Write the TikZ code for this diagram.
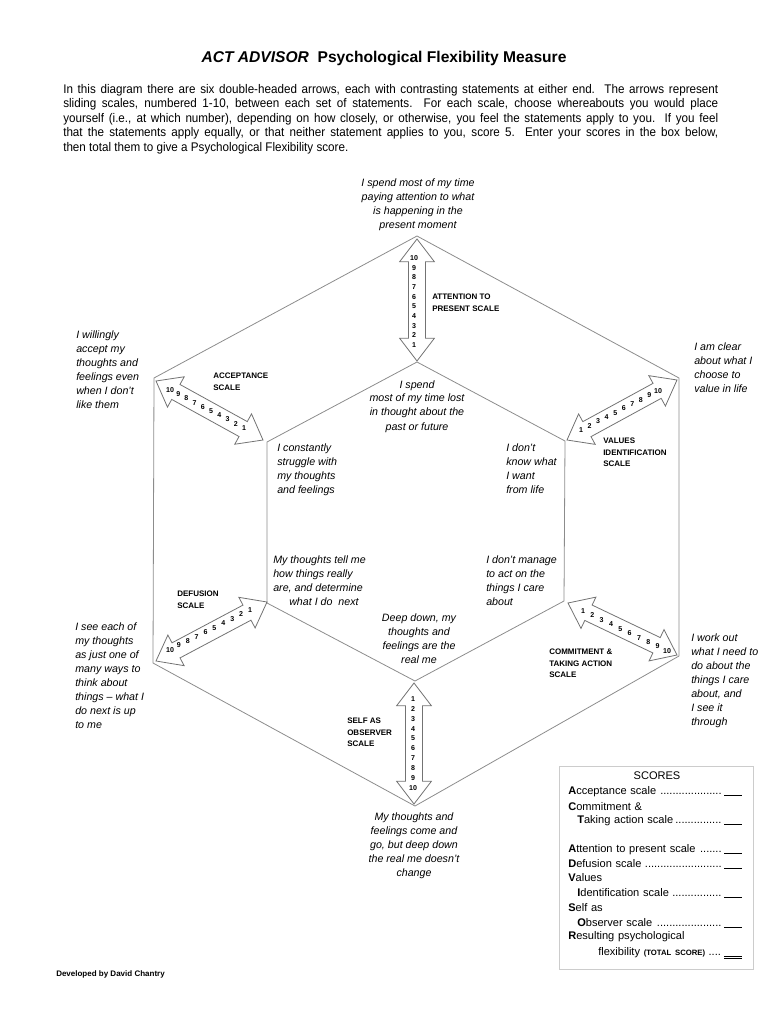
\documentclass[tikz,border=0pt]{standalone}
\usepackage{fontspec}
\setmainfont{Liberation Sans}
\newfontfamily\narrowfont{Liberation Sans}[FakeStretch=0.93]
\usetikzlibrary{calc}
\def\ahl{17pt}
\def\ahw{13pt}
\def\asw{6.4pt}
\newcommand\blockarrow[2]{%
 \draw[arrowbox] (#1)
  -- ($(#1)!\ahl!(#2)!\ahw!90:(#2)$)
  -- ($(#1)!\ahl!(#2)!\asw!90:(#2)$)
  -- ($(#2)!\ahl!(#1)!\asw!-90:(#1)$)
  -- ($(#2)!\ahl!(#1)!\ahw!-90:(#1)$)
  -- (#2)
  -- ($(#2)!\ahl!(#1)!\ahw!90:(#1)$)
  -- ($(#2)!\ahl!(#1)!\asw!90:(#1)$)
  -- ($(#1)!\ahl!(#2)!\asw!-90:(#2)$)
  -- ($(#1)!\ahl!(#2)!\ahw!-90:(#2)$)
  -- cycle;}
\newcommand\dotline{\leaders\hbox to 2.3pt{\hss.\hss}\hfill}
\newcommand\blankln{\rule[-0.6pt]{13.5pt}{0.5pt}}
\newcommand\blankdbl{\rlap{\rule[-0.6pt]{13.5pt}{0.5pt}}\rule[-2.2pt]{13.5pt}{0.5pt}}
\tikzset{
 hexline/.style={draw=black!45, line width=0.6pt, line join=miter},
 arrowbox/.style={draw=black!55, line width=0.6pt, fill=white, line join=miter},
 stmt/.style={font=\fontsize{8}{10.5}\selectfont\itshape, inner sep=0pt},
 stmtl/.style={stmt, align=left, anchor=north west},
 stmtc/.style={stmt, align=center, anchor=north},
 scalelbl/.style={font=\fontsize{6}{8.6}\selectfont\bfseries, align=left, anchor=north west, inner sep=0pt},
 num/.style={font=\fontsize{5.3}{5.3}\selectfont\bfseries, inner sep=0pt},
 scoreln/.style={font=\fontsize{8.3}{10}\selectfont, anchor=west, inner sep=0pt, text width=#1, align=left},
}
\begin{document}
\begin{tikzpicture}[x=0.75pt, y=-0.75pt]
\useasboundingbox (0,0) rectangle (768,1024);

% title and intro
\node[font=\fontsize{11.7}{14}\selectfont\bfseries, inner sep=0pt] (title) at (384,59)
  {{\itshape ACT ADVISOR}\ \ Psychological Flexibility Measure};
\node[font=\narrowfont\fontsize{9.4}{10.9}\selectfont, anchor=north west, inner sep=0pt,
      text width=491.25pt, align=justify] (intro) at (63,84)
 {In this diagram there are six double-headed arrows, each with contrasting statements at either end.\ \ The arrows represent\linebreak
 sliding scales, numbered 1-10, between each set of statements.\ \ For each scale, choose whereabouts you would place\linebreak
 yourself (i.e., at which number), depending on how closely, or otherwise, you feel the statements apply to you.\ \ If you feel\linebreak
 that the statements apply equally, or that neither statement applies to you, score 5.\ \ Enter your scores in the box below,\linebreak
 then total them to give a Psychological Flexibility score.};

% hexagons
\coordinate (o1) at (417,236);
\coordinate (o2) at (679,378);
\coordinate (o3) at (679,656);
\coordinate (o4) at (415,806);
\coordinate (o5) at (153,663);
\coordinate (o6) at (154,378);
\coordinate (i1) at (417,362);
\coordinate (i2) at (565,441);
\coordinate (i3) at (564,601);
\coordinate (i4) at (415,681);
\coordinate (i5) at (267,603);
\coordinate (i6) at (267,442);
\draw[hexline] (o1) -- (o2) -- (o3) -- (o4) -- (o5) -- (o6) -- cycle;
\draw[hexline] (i1) -- (i2) -- (i3) -- (i4) -- (i5) -- (i6) -- cycle;

% arrow end points
\coordinate (t1) at (417,239);  \coordinate (t2) at (417,361);
\coordinate (b1) at (414,683);  \coordinate (b2) at (414,804);
\coordinate (a1) at (156,381);  \coordinate (a2) at (263,440);
\coordinate (v1) at (567,440);  \coordinate (v2) at (677,380);
\coordinate (d1) at (267,602);  \coordinate (d2) at (156,661);
\coordinate (c1) at (568,603);  \coordinate (c2) at (677,655);
\blockarrow{t1}{t2}
\blockarrow{b1}{b2}
\blockarrow{a1}{a2}
\blockarrow{v1}{v2}
\blockarrow{d1}{d2}
\blockarrow{c1}{c2}

% numbers
\coordinate (tn1) at (414,345);  \coordinate (tn10) at (414,258);
\coordinate (bn1) at (413,699);  \coordinate (bn10) at (413,788);
\coordinate (an1) at (244,428);  \coordinate (an10) at (170,390);
\coordinate (vn1) at (581,430);  \coordinate (vn10) at (658,391);
\coordinate (dn1) at (250,610);  \coordinate (dn10) at (170,650);
\coordinate (cn1) at (583,611);  \coordinate (cn10) at (667,651);
\foreach \s in {t,b,a,v,d,c}{
  \foreach \k in {1,...,10}{
    \node[num] (\s num\k) at ($(\s n1)!{(\k-1)/9}!(\s n10)$) {\k};
  }
}

% scale labels
\node[scalelbl] (lblatt) at (432,294) {ATTENTION TO\\PRESENT SCALE};
\node[scalelbl] (lblacc) at (213,373) {ACCEPTANCE\\SCALE};
\node[scalelbl] (lblval) at (603,438) {VALUES\\IDENTIFICATION\\SCALE};
\node[scalelbl] (lbldef) at (177,591) {DEFUSION\\SCALE};
\node[scalelbl] (lblcom) at (549,649) {COMMITMENT \&\\TAKING ACTION\\SCALE};
\node[scalelbl] (lblself) at (347,718) {SELF AS\\OBSERVER\\SCALE};

% statements
\node[stmtc] (sTop) at (418,179) {I spend most of my time\\paying attention to what\\is happening in the\\present moment};
\node[stmtl] (sUL) at (76,330) {I willingly\\accept my\\thoughts and\\feelings even\\when I don’t\\like them};
\node[stmtl] (sUR) at (694,343) {I am clear\\about what I\\choose to\\value in life};
\node[stmtc] (iTop) at (417,380) {I spend\\most of my time lost\\in thought about the\\past or future};
\node[stmtl] (iL) at (277,443) {I constantly\\struggle with\\my thoughts\\and feelings};
\node[stmtl] (iR) at (506,443) {I don’t\\know what\\I want\\from life};
\node[stmtl] (iLL) at (273,555) {My thoughts tell me\\how things really\\are, and determine\\\hspace*{12pt}what I do\ \ next};
\node[stmtl] (iLR) at (486,555) {I don’t manage\\to act on the\\things I care\\about};
\node[stmtc] (iBot) at (419,613) {Deep down, my\\thoughts and\\feelings are the\\real me};
\node[stmtl] (sLL) at (75,622) {I see each of\\my thoughts\\as just one of\\many ways to\\think about\\things – what I\\do next is up\\to me};
\node[stmtl] (sLR) at (691,633) {I work out\\what I need to\\do about the\\things I care\\about, and\\I see it\\through};
\node[stmtc] (sBot) at (414,812) {My thoughts and\\feelings come and\\go, but deep down\\the real me doesn’t\\change};

% scores box
\node[draw=black!20, line width=0.6pt, minimum width=145.5pt, minimum height=152.25pt,
      anchor=north west, inner sep=0pt] (scorebox) at (559,766) {};
\node[font=\fontsize{8.3}{10}\selectfont, inner sep=0pt] (scorestitle) at (657,776) {SCORES};
\node[scoreln=130.5pt] (sc1) at (568,792) {\textbf{A}cceptance scale\,\dotline\,\blankln};
\node[scoreln=130.5pt] (sc2) at (568,807) {\textbf{C}ommitment \&};
\node[scoreln=123.75pt] (sc3) at (577,821) {\textbf{T}aking action scale\,\dotline\,\blankln};
\node[scoreln=130.5pt] (sc4) at (568,850) {\textbf{A}ttention to present scale\,\dotline\,\blankln};
\node[scoreln=130.5pt] (sc5) at (568,864) {\textbf{D}efusion scale\,\dotline\,\blankln};
\node[scoreln=130.5pt] (sc6) at (568,878) {\textbf{V}alues};
\node[scoreln=123.75pt] (sc7) at (577,893) {\textbf{I}dentification scale\,\dotline\,\blankln};
\node[scoreln=130.5pt] (sc8) at (568,908) {\textbf{S}elf as};
\node[scoreln=123.75pt] (sc9) at (577,923) {\textbf{O}bserver scale\,\dotline\,\blankln};
\node[scoreln=130.5pt] (sc10) at (568,937) {\textbf{R}esulting psychological};
\node[scoreln=108pt] (sc11) at (598,953) {flexibility {\fontsize{5.8}{6}\selectfont\bfseries (TOTAL SCORE)}\,\dotline\,\blankdbl};

% footer
\node[font=\fontsize{6}{7}\selectfont\bfseries, anchor=west, inner sep=0pt] (footer) at (56,974) {Developed by David Chantry};
\end{tikzpicture}
\end{document}
